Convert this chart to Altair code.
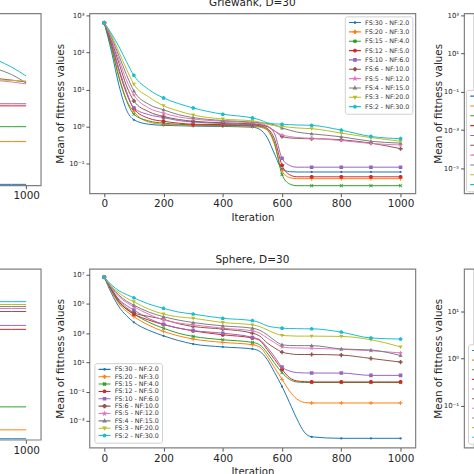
import math
import altair as alt
import pandas as pd

# ---------------------------------------------------------------- data
ITERATIONS = [0, 25, 50, 75, 100, 150, 200, 250, 300, 400, 500, 525, 550,
              575, 600, 625, 650, 675, 700, 800, 900, 1000]

SERIES = ["FS:30 - NF:2.0", "FS:20 - NF:3.0", "FS:15 - NF:4.0",
          "FS:12 - NF:5.0", "FS:10 - NF:6.0", "FS:6 - NF:10.0",
          "FS:5 - NF:12.0", "FS:4 - NF:15.0", "FS:3 - NF:20.0",
          "FS:2 - NF:30.0"]
COLORS = ["#1f77b4", "#ff7f0e", "#2ca02c", "#d62728", "#9467bd",
          "#8c564b", "#e377c2", "#7f7f7f", "#bcbd22", "#17becf"]

# Griewank, D=30 -- log10 of the mean fitness
GRIEWANK_FS30 = [2.8, 2.0, 1.1, 0.45, 0.18, 0.06, 0.03, 0.02, 0.01, 0.0, -0.02, -0.08, -0.3, -0.75, -1.15, -1.22, -1.23, -1.23, -1.23, -1.23, -1.23, -1.23]
GRIEWANK_FS20 = [2.8, 2.15, 1.35, 0.72, 0.4, 0.12, 0.06, 0.04, 0.03, 0.02, 0.0, -0.02, -0.1, -0.5, -1.2, -1.38, -1.41, -1.41, -1.41, -1.41, -1.41, -1.41]
GRIEWANK_FS15 = [2.8, 2.1, 1.3, 0.7, 0.33, 0.15, 0.09, 0.06, 0.04, 0.03, 0.02, 0.0, -0.08, -0.45, -1.3, -1.55, -1.6, -1.6, -1.6, -1.6, -1.6, -1.6]
GRIEWANK_FS12 = [2.8, 2.2, 1.5, 0.9, 0.48, 0.22, 0.14, 0.09, 0.06, 0.05, 0.04, 0.02, -0.05, -0.35, -1.05, -1.3, -1.36, -1.36, -1.36, -1.36, -1.36, -1.36]
GRIEWANK_FS10 = [2.8, 2.25, 1.55, 0.95, 0.5, 0.32, 0.24, 0.16, 0.12, 0.08, 0.05, 0.04, 0.0, -0.2, -0.86, -1.05, -1.1, -1.1, -1.1, -1.1, -1.1, -1.1]
GRIEWANK_FS6 = [2.8, 2.3, 1.7, 1.1, 0.69, 0.4, 0.27, 0.19, 0.14, 0.1, 0.07, 0.05, 0.0, -0.12, -0.27, -0.31, -0.32, -0.33, -0.33, -0.36, -0.45, -0.6]
GRIEWANK_FS5 = [2.8, 2.35, 1.8, 1.25, 0.85, 0.5, 0.36, 0.26, 0.2, 0.14, 0.1, 0.08, 0.02, -0.12, -0.23, -0.27, -0.3, -0.31, -0.32, -0.38, -0.46, -0.5]
GRIEWANK_FS4 = [2.8, 2.4, 1.9, 1.4, 0.96, 0.6, 0.45, 0.32, 0.24, 0.16, 0.12, 0.1, 0.08, 0.04, -0.04, -0.1, -0.15, -0.18, -0.2, -0.28, -0.4, -0.45]
GRIEWANK_FS3 = [2.8, 2.45, 2.0, 1.55, 1.14, 0.8, 0.56, 0.42, 0.31, 0.2, 0.15, 0.12, 0.06, 0.02, 0.0, -0.02, -0.04, -0.05, -0.06, -0.18, -0.3, -0.4]
GRIEWANK_FS2 = [2.8, 2.5, 2.15, 1.75, 1.38, 1.0, 0.77, 0.62, 0.5, 0.33, 0.23, 0.18, 0.1, 0.07, 0.06, 0.05, 0.04, 0.035, 0.03, -0.1, -0.27, -0.33]

# Sphere, D=30 -- log10 of the mean fitness
SPHERE_FS30 = [6.84, 5.7, 4.8, 4.2, 3.75, 3.2, 2.82, 2.5, 2.26, 2.06, 1.92, 1.75, 1.2, 0.3, -0.65, -1.74, -2.86, -3.77, -4.1, -4.2, -4.2, -4.2]
SPHERE_FS20 = [6.84, 5.85, 5.0, 4.5, 4.13, 3.55, 3.12, 2.82, 2.6, 2.37, 2.21, 2.05, 1.42, 0.63, -0.16, -0.95, -1.51, -1.74, -1.78, -1.78, -1.78, -1.78]
SPHERE_FS15 = [6.84, 5.9, 5.1, 4.65, 4.31, 3.75, 3.34, 3.0, 2.78, 2.55, 2.37, 2.2, 1.65, 0.93, 0.3, -0.16, -0.34, -0.37, -0.38, -0.38, -0.38, -0.38]
SPHERE_FS12 = [6.84, 5.95, 5.15, 4.65, 4.31, 3.9, 3.59, 3.35, 3.16, 2.89, 2.67, 2.5, 1.88, 1.2, 0.52, -0.04, -0.27, -0.32, -0.34, -0.34, -0.34, -0.34]
SPHERE_FS10 = [6.84, 6.0, 5.3, 4.9, 4.58, 4.0, 3.61, 3.35, 3.18, 3.0, 2.71, 2.55, 2.03, 1.38, 0.68, 0.41, 0.3, 0.28, 0.27, 0.27, 0.11, 0.11]
SPHERE_FS6 = [6.84, 6.0, 5.25, 4.75, 4.4, 4.15, 3.95, 3.65, 3.46, 3.28, 3.0, 2.8, 2.33, 1.99, 1.7, 1.6, 1.54, 1.54, 1.54, 1.5, 1.27, 1.02]
SPHERE_FS5 = [6.84, 6.1, 5.5, 5.1, 4.81, 4.3, 3.91, 3.7, 3.57, 3.34, 3.16, 3.0, 2.67, 2.35, 2.06, 2.0, 1.99, 1.98, 1.97, 1.9, 1.8, 1.65]
SPHERE_FS4 = [6.84, 6.15, 5.6, 5.2, 4.92, 4.45, 4.13, 3.9, 3.73, 3.5, 3.34, 3.2, 2.89, 2.5, 2.21, 2.16, 2.15, 2.15, 2.15, 1.92, 1.85, 1.47]
SPHERE_FS3 = [6.84, 6.2, 5.75, 5.4, 5.15, 4.65, 4.31, 4.12, 4.02, 3.73, 3.57, 3.45, 3.23, 3.0, 2.85, 2.82, 2.8, 2.8, 2.8, 2.78, 2.55, 2.06]
SPHERE_FS2 = [6.84, 6.3, 5.9, 5.65, 5.42, 5.0, 4.7, 4.45, 4.31, 4.02, 3.86, 3.72, 3.5, 3.4, 3.34, 3.32, 3.31, 3.3, 3.3, 3.07, 2.67, 2.6]

# final stretch of the neighbouring panels on the left (log10)
TAIL_ITERATIONS = [900, 950, 1000]
LEFT_TOP_FS30 = [-5.95, -5.95, -5.95]
LEFT_TOP_FS20 = [-3.71, -3.71, -3.71]
LEFT_TOP_FS15 = [-2.93, -2.93, -2.93]
LEFT_TOP_FS12 = [-1.84, -1.84, -1.84]
LEFT_TOP_FS10 = [-1.73, -1.73, -1.73]
LEFT_TOP_FS6 = [-0.41, -0.49, -0.59]
LEFT_TOP_FS5 = [-0.51, -0.59, -0.69]
LEFT_TOP_FS4 = [0.09, -0.2, -0.64]
LEFT_TOP_FS3 = [-0.48, -0.51, -0.54]
LEFT_TOP_FS2 = [0.56, 0.19, -0.28]

LEFT_BOTTOM_FS30 = [-5.95, -5.95, -5.95]
LEFT_BOTTOM_FS20 = [-5.48, -5.48, -5.48]
LEFT_BOTTOM_FS15 = [-4.27, -4.27, -4.27]
LEFT_BOTTOM_FS12 = [-0.19, -0.19, -0.19]
LEFT_BOTTOM_FS10 = [0.02, 0.02, 0.02]
LEFT_BOTTOM_FS6 = [0.75, 0.75, 0.75]
LEFT_BOTTOM_FS5 = [0.91, 0.91, 0.91]
LEFT_BOTTOM_FS4 = [1.01, 1.01, 1.01]
LEFT_BOTTOM_FS3 = [1.12, 1.12, 1.12]
LEFT_BOTTOM_FS2 = [1.27, 1.27, 1.27]

GRIEWANK = [GRIEWANK_FS30, GRIEWANK_FS20, GRIEWANK_FS15, GRIEWANK_FS12, GRIEWANK_FS10,
            GRIEWANK_FS6, GRIEWANK_FS5, GRIEWANK_FS4, GRIEWANK_FS3, GRIEWANK_FS2]
SPHERE = [SPHERE_FS30, SPHERE_FS20, SPHERE_FS15, SPHERE_FS12, SPHERE_FS10,
          SPHERE_FS6, SPHERE_FS5, SPHERE_FS4, SPHERE_FS3, SPHERE_FS2]
LEFT_TOP = [LEFT_TOP_FS30, LEFT_TOP_FS20, LEFT_TOP_FS15, LEFT_TOP_FS12, LEFT_TOP_FS10,
            LEFT_TOP_FS6, LEFT_TOP_FS5, LEFT_TOP_FS4, LEFT_TOP_FS3, LEFT_TOP_FS2]
LEFT_BOTTOM = [LEFT_BOTTOM_FS30, LEFT_BOTTOM_FS20, LEFT_BOTTOM_FS15, LEFT_BOTTOM_FS12,
               LEFT_BOTTOM_FS10, LEFT_BOTTOM_FS6, LEFT_BOTTOM_FS5, LEFT_BOTTOM_FS4,
               LEFT_BOTTOM_FS3, LEFT_BOTTOM_FS2]


def long_table(iterations, columns):
    rows = []
    for name, logs in zip(SERIES, columns):
        for it, lg in zip(iterations, logs):
            rows.append({"it": it, "v": 10 ** lg, "series": name})
    return pd.DataFrame(rows)


df_griewank = long_table(ITERATIONS, GRIEWANK)
df_sphere = long_table(ITERATIONS, SPHERE)
df_left_top = long_table(TAIL_ITERATIONS, LEFT_TOP)
df_left_bottom = long_table(TAIL_ITERATIONS, LEFT_BOTTOM)

# ---------------------------------------------------------------- marker shapes


def poly(pts):
    return "M" + "L".join(f"{x:.3f},{y:.3f}" for x, y in pts) + "Z"


def regular(n, r, rot=0.0):
    return [(r * math.cos(rot + 2 * math.pi * k / n), r * math.sin(rot + 2 * math.pi * k / n))
            for k in range(n)]


def plus(w, r):
    return [(-w, -r), (w, -r), (w, -w), (r, -w), (r, w), (w, w), (w, r), (-w, r),
            (-w, w), (-r, w), (-r, -w), (-w, -w)]


def rotated(pts, ang):
    c, s = math.cos(ang), math.sin(ang)
    return [(x * c - y * s, x * s + y * c) for x, y in pts]


def scaled(pts, k):
    return [(x * k, y * k) for x, y in pts]


def star(r_out, r_in):
    pts = []
    for k in range(10):
        r = r_out if k % 2 == 0 else r_in
        a = -math.pi / 2 + math.pi * k / 5
        pts.append((r * math.cos(a), r * math.sin(a)))
    return pts


MARKER_PTS = [
    regular(8, 0.55),                      # .
    plus(0.2, 1.0),                        # +
    rotated(plus(0.2, 1.0), math.pi / 4),  # x
    regular(10, 0.95),                     # o
    [(-0.85, -0.85), (0.85, -0.85), (0.85, 0.85), (-0.85, 0.85)],  # s
    plus(0.35, 1.0),                       # P
    star(1.1, 0.5),                        # *
    [(0, -1.0), (0.95, 0.7), (-0.95, 0.7)],   # ^
    [(0, 1.0), (0.95, -0.7), (-0.95, -0.7)],  # v
    regular(5, 1.0, -math.pi / 2),         # p
]
MARKER_PATHS = [poly(p) for p in MARKER_PTS]
LEGEND_PATHS = ["M-3,0H3" + poly(scaled(p, 0.75)) for p in MARKER_PTS]

# ---------------------------------------------------------------- helpers
FONT = "DejaVu Sans"
EXP = "round(log(datum.value) / LN10)"
POW_LABEL = (f"'10' + ({EXP} < 0 ? '\u207b' : '') + "
             f"substring('\u2070\u00b9\u00b2\u00b3\u2074\u2075\u2076\u2077\u2078\u2079', abs({EXP}), abs({EXP}) + 1)")


def color_scale():
    return alt.Scale(domain=SERIES, range=COLORS)


def y_enc(domain_log, ticks, show=True, title_pad=3):
    axis = None
    if show:
        axis = alt.Axis(values=ticks, labelExpr=POW_LABEL, title="Mean of fittness values",
                        labelFontSize=7, titleFontSize=10.4, tickSize=3.5, labelPadding=2,
                        titlePadding=title_pad)
    return alt.Y("v:Q", scale=alt.Scale(type="log", domain=[10 ** domain_log[0], 10 ** domain_log[1]],
                                        nice=False, zero=False),
                 axis=axis)


def x_enc(domain, ticks=None, title=None, show=True):
    axis = None
    if show:
        axis = alt.Axis(values=ticks, title=title, format="d", labelFontSize=10.5,
                        titleFontSize=10.2, tickSize=3.5, labelPadding=2, titlePadding=3)
    return alt.X("it:Q", scale=alt.Scale(domain=domain, nice=False, zero=False), axis=axis)


def legend_style(font, row_pad, **kw):
    return alt.Legend(title=None, labelFontSize=font, labelFont=FONT, labelColor="#333333",
                      symbolSize=16, symbolStrokeWidth=1.1, symbolOffset=4, labelOffset=7,
                      rowPadding=row_pad, padding=3, fillColor="white", strokeColor="#d0d0d0",
                      cornerRadius=2, **kw)


def plain_lines(df, x, y):
    # curves of a panel that carries no legend
    return alt.Chart(df).mark_line(strokeWidth=1, interpolate="monotone", clip=True).encode(
        x=x, y=y, color=alt.Color("series:N", scale=color_scale(), legend=None))


def legend_key(df, x, y, legend):
    return (
        alt.Chart(df)
        .transform_filter(alt.datum.it < 0)
        .mark_point(filled=True, strokeWidth=1.1, opacity=1)
        .encode(
            x=x, y=y,
            fill=alt.Fill("series:N", scale=color_scale(), legend=legend),
            stroke=alt.Stroke("series:N", scale=color_scale(), legend=legend),
            shape=alt.Shape("series:N", scale=alt.Scale(domain=SERIES, range=LEGEND_PATHS),
                            legend=legend),
        )
    )


def keyed_panel(df, x, y, legend):
    """Curves, markers every 100 iterations and a line+marker legend."""
    stroke = alt.Stroke("series:N", scale=color_scale(), legend=legend)
    fill = alt.Fill("series:N", scale=color_scale(), legend=legend)
    layers = [alt.Chart(df).mark_line(strokeWidth=1, interpolate="monotone", clip=True)
              .encode(x=x, y=y, stroke=stroke)]
    for name, path in zip(SERIES, MARKER_PATHS):
        layers.append(
            alt.Chart(df)
            .transform_filter((alt.datum.series == name) & (alt.datum.it % 100 == 0))
            .mark_point(shape=path, filled=True, size=18, opacity=1, clip=True)
            .encode(x=x, y=y, fill=fill)
        )
    layers.append(legend_key(df, x, y, legend))
    return alt.layer(*layers)


X_TICKS = [0, 200, 400, 600, 800, 1000]
X_DOMAIN = [-50, 1050]
LEFT_X_DOMAIN = [907, 1050]

TOP_H, BOTTOM_H = 181, 180
LEFT_TOP_H, LEFT_BOTTOM_H = 173, 172
CENTER_W, LEFT_W, RIGHT_W = 328, 42, 10


def panel_title(text):
    return alt.Title(text, fontSize=10.6, offset=3, fontWeight="normal", font=FONT,
                     color="#222222")


# ---------------------------------------------------------------- top row
xc = x_enc(X_DOMAIN, X_TICKS, "Iteration")
yc_top = y_enc([-1.805, 3.054], [0.1, 1, 10, 100, 1000])
center_top = keyed_panel(
    df_griewank, xc, yc_top,
    legend_style(6.4, 1.4, orient="none", legendX=257, legendY=3),
).properties(width=CENTER_W, height=TOP_H, title=panel_title("Griewank, D=30"))

xl = x_enc(LEFT_X_DOMAIN, [1000], None)
left_top = plain_lines(df_left_top, xl, y_enc([-6, 3], [], show=False)).properties(
    width=LEFT_W, height=LEFT_TOP_H)

xr = x_enc(X_DOMAIN, show=False)
right_top = legend_key(
    df_griewank, xr, y_enc([-6.3, 3.1], [1e-5, 1e-3, 1e-1, 10, 1000], title_pad=0),
    legend_style(6.4, 1.9, orient="bottom-left", offset=2),
).properties(width=RIGHT_W, height=TOP_H)

# ---------------------------------------------------------------- bottom row
yc_bot = y_enc([-4.84, 7.41], [1e-3, 1e-1, 10, 1e3, 1e5, 1e7])
center_bottom = keyed_panel(
    df_sphere, xc, yc_bot,
    legend_style(6.4, -0.6, orient="bottom-left", offset=5),
).properties(width=CENTER_W, height=BOTTOM_H, title=panel_title("Sphere, D=30"))

left_bottom = plain_lines(df_left_bottom, xl, y_enc([-6, 3], [], show=False)).properties(
    width=LEFT_W, height=LEFT_BOTTOM_H)

right_bottom = legend_key(
    df_sphere, xr, y_enc([-1.884, 1.905], [0.1, 1, 10], title_pad=0),
    legend_style(6.4, 1.7, orient="bottom-left", offset=4),
).properties(width=RIGHT_W, height=BOTTOM_H)

INDEP = dict(color="independent", fill="independent", stroke="independent", shape="independent")

chart = (
    alt.concat(left_top, center_top, right_top, left_bottom, center_bottom, right_bottom,
               columns=3, spacing={"row": 76, "column": 49}, bounds="flush", align="each")
    .resolve_scale(**INDEP)
    .properties(padding={"left": -2, "top": -5, "right": -64, "bottom": -5},
                background="white")
    .configure(font=FONT)
    .configure_view(stroke="#808080", strokeWidth=1.2)
    .configure_axis(labelFont=FONT, titleFont=FONT, labelColor="#262626", titleColor="#262626",
                    titleFontWeight="normal", tickColor="#555555", domain=False, grid=False)
)

chart.save("out.html", embed_options={"renderer": "svg", "actions": False})
